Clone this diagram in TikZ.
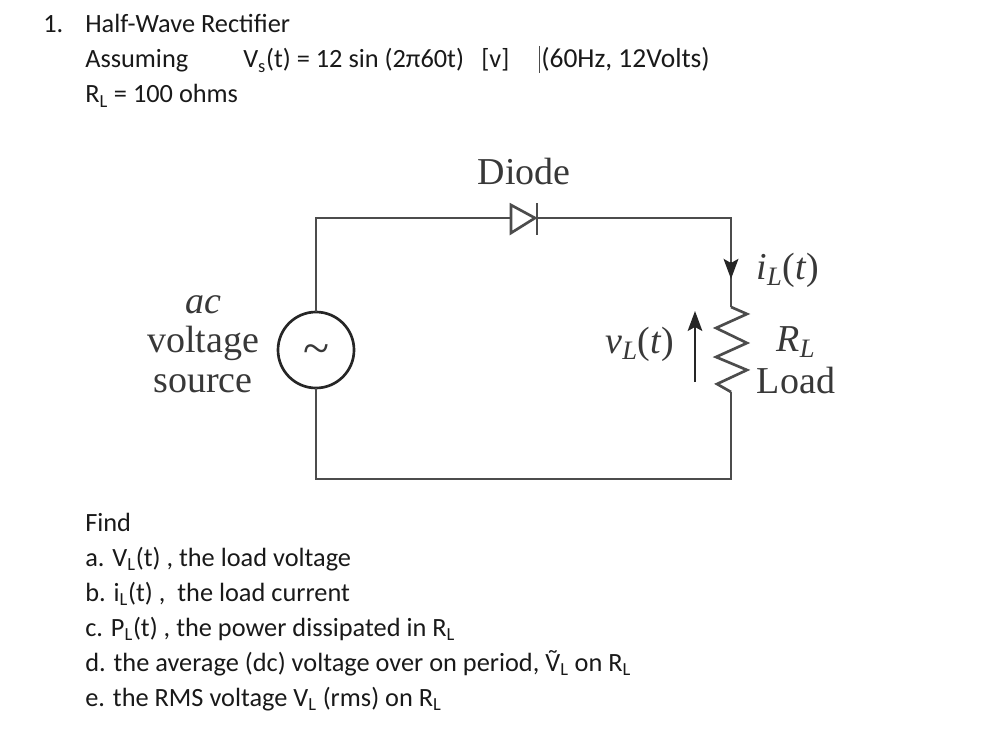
\documentclass[tikz,border=0pt]{standalone}
\usepackage{fontspec}
\setmainfont{Carlito}
\newfontfamily\circfont{Liberation Serif}
\usetikzlibrary{arrows.meta}
\definecolor{wirecol}{gray}{0.3}
\definecolor{circtext}{gray}{0.22}
\definecolor{texcol}{gray}{0.1}
\tikzset{
	txt/.style={anchor=base west,inner sep=0pt,text=texcol,font=\fontsize{19.75}{22}\selectfont},
	lbl/.style={inner sep=0pt,text=circtext,font=\circfont\fontsize{28.5}{30}\selectfont},
	wire/.style={draw=wirecol,line width=2pt,line join=miter},
	headtip/.style={-{Stealth[length=15pt,width=11pt,inset=3pt]}}
}
\newcommand{\subL}{\textsubscript{L}}
\begin{document}
\begin{tikzpicture}[x=0.75pt,y=-0.75pt]
	\useasboundingbox (0,0) rectangle (1006,738);
	% question text
	\node[txt] (num) at (43,33) {1.};
	\node[txt] (title) at (85,33) {Half-Wave Rectifier};
	\node[txt] (assume) at (85,68) {Assuming};
	\node[txt] (vsrc) at (243,68) {V\textsubscript{s}(t) = 12 sin (2π60t)};
	\node[txt] (unit) at (481,68) {[v]};
	\node[txt,font=\fontsize{20.6}{22}\selectfont] (freq) at (541,68) {(60Hz, 12Volts)};
	\node[txt] (rval) at (85,103) {R\subL{} = 100 ohms};
	\coordinate (bara) at (539,46);
	\coordinate (barb) at (539,73);
	\draw[wirecol,line width=0.6pt] (bara) -- (barb);
	% circuit
	\coordinate (tl) at (316,218);
	\coordinate (tr) at (731,218);
	\coordinate (bl) at (316,479);
	\coordinate (br) at (731,479);
	\coordinate (dia) at (511,218);
	\coordinate (dib) at (537,218);
	\coordinate (rtop) at (731,307);
	\coordinate (rbot) at (731,392);
	\coordinate (iltip) at (731,279);
	\coordinate (vla) at (695,382);
	\coordinate (vlb) at (695,311);
	\node[circle,draw=black!85,line width=2pt,minimum size=76pt*0.75,inner sep=0pt,outer sep=0pt,text=circtext,font=\fontsize{36}{36}\selectfont] (src) at (316,350) {\raisebox{-10.5pt}[0pt][0pt]{\circfont\textasciitilde}};
	\draw[wire] (src) -- (tl) -- (dia);
	\draw[wire] (src) -- (bl) -- (br) -- (rbot);
	\draw[wire] (dib) -- (tr) -- (iltip);
	\draw[wire] (iltip) -- (rtop);
	\draw[wire,headtip,draw=black!85,fill=black!85] (731,262) -- (iltip);
	% diode
	\draw[wire] (dia) -- (511,205) -- (535,218) -- (511,233) -- cycle;
	\draw[wire] (537,203) -- (dib) -- (537,235);
	% load
	\draw[wire] (rtop) -- (747,314) -- (716,328) -- (747,343) -- (716,357) -- (747,370) -- (717,384) -- (rbot);
	\draw[wirecol,line width=1.3pt,headtip,draw=black!85] (vla) -- (vlb);
	% labels
	\node[lbl] (dlbl) at (524,172) {Diode};
	\node[lbl,font=\circfont\itshape\fontsize{28.5}{30}\selectfont] (aclbl) at (203,305) {ac};
	\node[lbl] (vollbl) at (203,343) {voltage};
	\node[lbl] (srclbl) at (203,384) {source};
	\node[lbl] (ill) at (788,270) {\textit{i}\textsubscript{\textit{L}}(\textit{t})};
	\node[lbl] (vll) at (640,344) {\textit{v}\textsubscript{\textit{L}}(\textit{t})};
	\node[lbl] (rll) at (796,342) {\textit{R}\textsubscript{\textit{L}}};
	\node[lbl] (load) at (796,380) {Load};
	% questions
	\node[txt] (find) at (85,531) {Find};
	\node[txt] (qa) at (85,566) {a. V\subL(t) , the load voltage};
	\node[txt] (qb) at (85,601) {b. i\subL(t) ,\ \ the load current};
	\node[txt] (qc) at (85,636) {c. P\subL(t) , the power dissipated in R\subL};
	\node[txt] (qd) at (85,671) {d. the average (dc) voltage over on period, Ṽ\subL{} on R\subL};
	\node[txt] (qe) at (85,706) {e. the RMS voltage V\subL{} (rms) on R\subL};
\end{tikzpicture}
\end{document}
